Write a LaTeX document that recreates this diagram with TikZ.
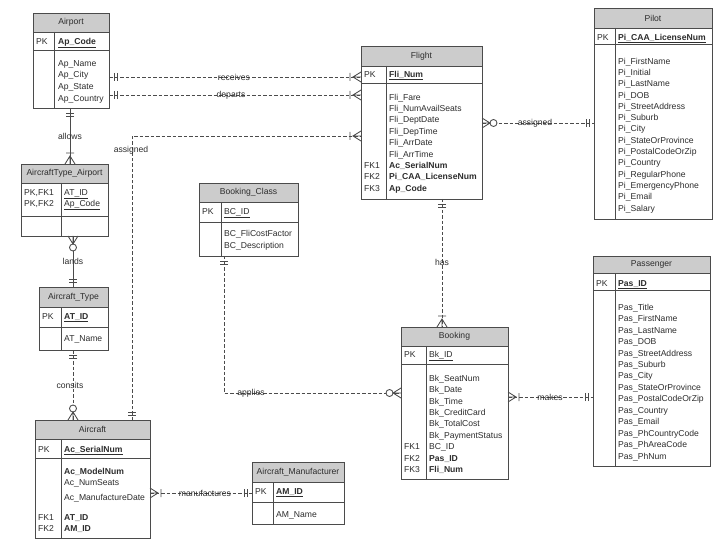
\documentclass[tikz,border=0pt]{standalone}
\usepackage{fontspec}
\setmainfont{Liberation Sans}
\usetikzlibrary{calc}
\definecolor{hdrgray}{RGB}{204,204,204}
\definecolor{linegray}{RGB}{75,75,75}
\definecolor{txtgray}{RGB}{45,45,45}
\tikzset{
 tblbox/.style={draw=linegray, line width=0.9pt, inner sep=0pt, outer sep=0pt},
 tblline/.style={draw=linegray, line width=0.9pt},
 ttl/.style={font=\fontsize{8.6}{10}\selectfont, text=txtgray, inner sep=0pt},
 attr/.style={anchor=base west, font=\fontsize{8.6}{10}\selectfont, text=txtgray, inner sep=0pt},
 conn/.style={draw=linegray, line width=0.85pt},
 nonid/.style={conn, dash pattern=on 3.5pt off 2pt},
 mk/.style={draw=linegray, line width=0.85pt, solid},
 lbl/.style={font=\fontsize{8.6}{10}\selectfont, text=txtgray, inner sep=0pt},
}
\newcommand\ertable[9]{%
  \fill[hdrgray] (#2,#3) rectangle (#4,#6);
  \node[tblbox, minimum width={#4pt-#2pt}, minimum height={#5pt-#3pt}] (#1) at ({(#2+#4)/2},{(#3+#5)/2}) {};
  \draw[tblline] (#2,#6) -- (#4,#6) (#2,#7) -- (#4,#7) (#8,#6) -- (#8,#5);
  \node[ttl] (#1-title) at ({(#2+#4)/2},{(#3+#6)/2}) {#9};}
\newcommand\ertxt[4]{\node[attr] (#1) at (#2,{#3+3.2}) {#4};}
\newcommand\erattrs[5]{\foreach \t [count=\i] in {#5} {\node[attr] (#1-\i) at (#2,{#3+(\i-1)*#4+3.2}) {\t};}}
\newcommand\mkone[2]{\begin{scope}[shift={#1},rotate=#2]\draw[mk] (5,-4)--(5,4) (8,-4)--(8,4);\end{scope}}
\newcommand\mkonemany[2]{\begin{scope}[shift={#1},rotate=#2]\draw[mk] (0,-5)--(8,0)--(0,5) (0,0)--(8,0) (11,-4)--(11,4);\end{scope}}
\newcommand\mkzeromany[2]{\begin{scope}[shift={#1},rotate=#2]\draw[mk] (0,-5)--(8,0)--(0,5) (0,0)--(8,0); \draw[mk,fill=white] (11.5,0) circle (3.5);\end{scope}}
\begin{document}
\begin{tikzpicture}[x=1pt,y=-1pt]
\fill[white] (0,0) rectangle (723,548);
\useasboundingbox (0,0) rectangle (723,548);

% ---------------- tables ----------------
% Airport
\ertable{airport}{33}{13}{109}{108}{32}{50}{54}{Airport}
\ertxt{airport-pk}{36}{41}{PK}
\ertxt{airport-pkn}{58}{41}{\textbf{\underline{Ap\_Code}}}
\erattrs{airport-a}{58}{63}{11.67}{Ap\_Name, Ap\_City, Ap\_State, Ap\_Country}

% Flight
\ertable{flight}{361}{46}{482}{199}{66}{83}{386}{Flight}
\ertxt{flight-pk}{364}{74}{PK}
\ertxt{flight-pkn}{389}{74}{\textbf{\underline{Fli\_Num}}}
\erattrs{flight-a}{389}{97}{11.4}{Fli\_Fare, Fli\_NumAvailSeats, Fli\_DeptDate, Fli\_DepTime, Fli\_ArrDate, Fli\_ArrTime, \textbf{Ac\_SerialNum}, \textbf{Pi\_CAA\_LicenseNum}, \textbf{Ap\_Code}}
\erattrs{flight-k}{364}{165.4}{11.4}{FK1, FK2, FK3}

% Pilot
\ertable{pilot}{594}{8}{712}{219}{28}{44}{615}{Pilot}
\ertxt{pilot-pk}{597}{37}{PK}
\ertxt{pilot-pkn}{618}{37}{\textbf{\underline{Pi\_CAA\_LicenseNum}}}
\erattrs{pilot-a}{618}{61}{11.3}{Pi\_FirstName, Pi\_Initial, Pi\_LastName, Pi\_DOB, Pi\_StreetAddress, Pi\_Suburb, Pi\_City, Pi\_StateOrProvince, Pi\_PostalCodeOrZip, Pi\_Country, Pi\_RegularPhone, Pi\_EmergencyPhone, Pi\_Email, Pi\_Salary}

% Passenger
\ertable{passenger}{593}{256}{710}{466}{273}{290}{615}{Passenger}
\ertxt{passenger-pk}{596}{283}{PK}
\ertxt{passenger-pkn}{618}{283}{\textbf{\underline{Pas\_ID}}}
\erattrs{passenger-a}{618}{307}{11.45}{Pas\_Title, Pas\_FirstName, Pas\_LastName, Pas\_DOB, Pas\_StreetAddress, Pas\_Suburb, Pas\_City, Pas\_StateOrProvince, Pas\_PostalCodeOrZip, Pas\_Country, Pas\_Email, Pas\_PhCountryCode, Pas\_PhAreaCode, Pas\_PhNum}

% AircraftType_Airport
\ertable{atair}{21}{164}{108}{236}{183}{216}{61}{AircraftType\_Airport}
\ertxt{atair-k1}{24}{192}{PK,FK1}
\ertxt{atair-k2}{24}{203}{PK,FK2}
\ertxt{atair-n1}{64}{192}{\underline{AT\_ID}}
\ertxt{atair-n2}{64}{203}{\underline{Ap\_Code}}

% Aircraft_Type
\ertable{attype}{39}{287}{108}{350}{307}{327}{61}{Aircraft\_Type}
\ertxt{attype-pk}{42}{316}{PK}
\ertxt{attype-pkn}{64}{316}{\textbf{\underline{AT\_ID}}}
\ertxt{attype-a1}{64}{338}{AT\_Name}

% Booking_Class
\ertable{bclass}{199}{183}{298}{256}{202}{222}{221}{Booking\_Class}
\ertxt{bclass-pk}{202}{211}{PK}
\ertxt{bclass-pkn}{224}{211}{\underline{BC\_ID}}
\erattrs{bclass-a}{224}{233}{12}{BC\_FliCostFactor, BC\_Description}

% Aircraft
\ertable{aircraft}{35}{420}{150}{538}{439}{458}{61}{Aircraft}
\ertxt{aircraft-pk}{38}{449}{PK}
\ertxt{aircraft-pkn}{64}{449}{\textbf{\underline{Ac\_SerialNum}}}
\ertxt{aircraft-a1}{64}{471}{\textbf{Ac\_ModelNum}}
\ertxt{aircraft-a2}{64}{482}{Ac\_NumSeats}
\ertxt{aircraft-a3}{64}{497}{Ac\_ManufactureDate}
\ertxt{aircraft-a4}{64}{517}{\textbf{AT\_ID}}
\ertxt{aircraft-a5}{64}{528}{\textbf{AM\_ID}}
\ertxt{aircraft-k1}{38}{517}{FK1}
\ertxt{aircraft-k2}{38}{528}{FK2}

% Aircraft_Manufacturer
\ertable{amfr}{252}{462}{344}{524}{482}{502}{273}{Aircraft\_Manufacturer}
\ertxt{amfr-pk}{255}{491}{PK}
\ertxt{amfr-pkn}{276}{491}{\textbf{\underline{AM\_ID}}}
\ertxt{amfr-a1}{276}{514}{AM\_Name}

% Booking
\ertable{booking}{401}{327}{508}{479}{346}{364}{426}{Booking}
\ertxt{booking-pk}{404}{354}{PK}
\ertxt{booking-pkn}{429}{354}{\underline{Bk\_ID}}
\erattrs{booking-a}{429}{378}{11.4}{Bk\_SeatNum, Bk\_Date, Bk\_Time, Bk\_CreditCard, Bk\_TotalCost, Bk\_PaymentStatus, BC\_ID, \textbf{Pas\_ID}, \textbf{Fli\_Num}}
\erattrs{booking-k}{404}{446.4}{11.4}{FK1, FK2, FK3}

% ---------------- connectors ----------------
% receives / departs
\draw[nonid] (airport.east|-0,77) -- (flight.west|-0,77);
\mkone{(airport.east|-0,77)}{0}
\mkonemany{(flight.west|-0,77)}{180}
\node[lbl] (l-receives) at (234,77) {receives};
\draw[nonid] (airport.east|-0,95) -- (flight.west|-0,95);
\mkone{(airport.east|-0,95)}{0}
\mkonemany{(flight.west|-0,95)}{180}
\node[lbl] (l-departs) at (231,95) {departs};
% allows (identifying)
\draw[conn] (airport.south-|70,0) -- (atair.north-|70,0);
\mkone{(airport.south-|70,0)}{-90}
\mkonemany{(atair.north-|70,0)}{90}
\node[lbl] (l-allows) at (70,136) {allows};
% lands (identifying)
\draw[conn] (atair.south-|73,0) -- (attype.north-|73,0);
\mkzeromany{(atair.south-|73,0)}{-90}
\mkone{(attype.north-|73,0)}{90}
\node[lbl] (l-lands) at (73,261) {lands};
% consits
\draw[nonid] (attype.south-|73,0) -- (aircraft.north-|73,0);
\mkone{(attype.south-|73,0)}{-90}
\mkzeromany{(aircraft.north-|73,0)}{90}
\node[lbl] (l-consits) at (70,385) {consits};
% assigned aircraft - flight
\draw[nonid] (aircraft.north-|132,0) |- (flight.west|-0,136);
\mkone{(aircraft.north-|132,0)}{90}
\mkonemany{(flight.west|-0,136)}{180}
\node[lbl] (l-assigned1) at (131,150) {assigned};
% assigned flight - pilot
\draw[nonid] (flight.east|-0,123) -- (pilot.west|-0,123);
\mkzeromany{(flight.east|-0,123)}{0}
\mkone{(pilot.west|-0,123)}{180}
\node[lbl] (l-assigned2) at (535,123) {assigned};
% has
\draw[nonid] (flight.south-|442,0) -- (booking.north-|442,0);
\mkone{(flight.south-|442,0)}{-90}
\mkonemany{(booking.north-|442,0)}{90}
\node[lbl] (l-has) at (442,262) {has};
% applies
\draw[nonid] (bclass.south-|224,0) |- (booking.west|-0,393);
\mkone{(bclass.south-|224,0)}{-90}
\mkzeromany{(booking.west|-0,393)}{180}
\node[lbl] (l-applies) at (251,393) {applies};
% makes
\draw[nonid] (booking.east|-0,397) -- (passenger.west|-0,397);
\mkonemany{(booking.east|-0,397)}{0}
\mkone{(passenger.west|-0,397)}{180}
\node[lbl] (l-makes) at (550,397) {makes};
% manufactures
\draw[nonid] (aircraft.east|-0,493) -- (amfr.west|-0,493);
\mkonemany{(aircraft.east|-0,493)}{0}
\mkone{(amfr.west|-0,493)}{180}
\node[lbl] (l-manufactures) at (205,493) {manufactures};
\end{tikzpicture}
\end{document}
